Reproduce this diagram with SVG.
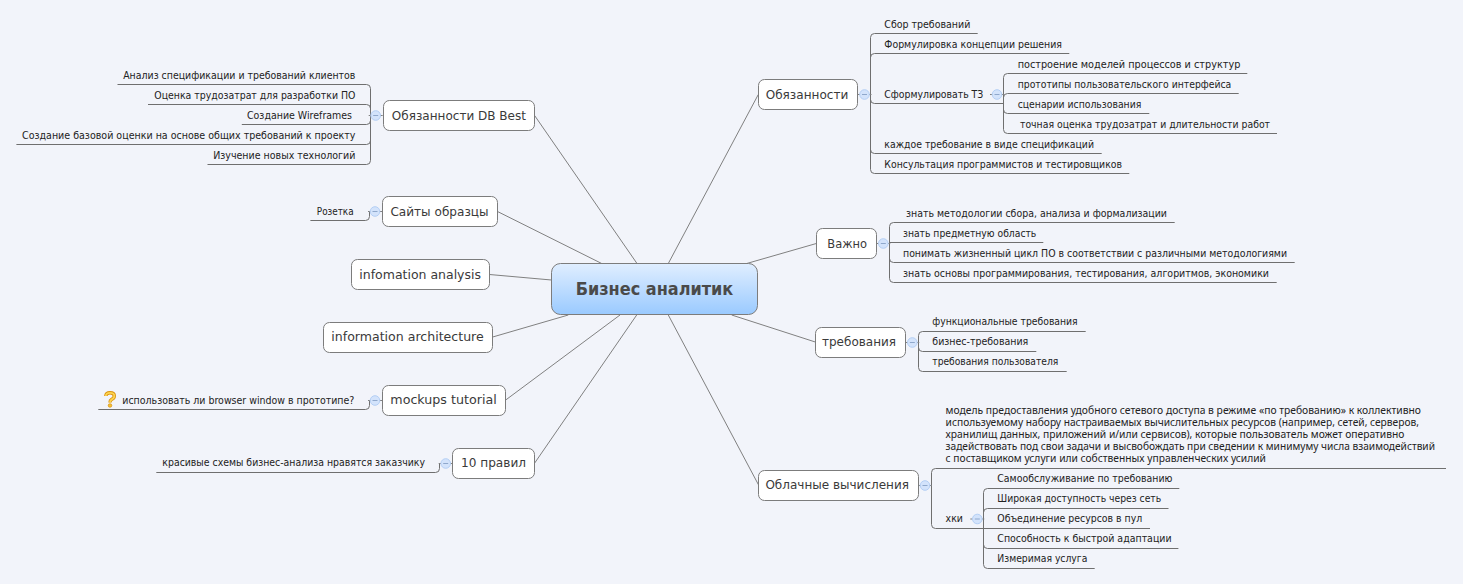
<svg xmlns="http://www.w3.org/2000/svg" width="1463" height="584" viewBox="0 0 1463 584">
<style>
text{font-family:"DejaVu Sans","Liberation Sans",sans-serif;}
.n{fill:#fff;stroke:#7c7c7c;stroke-width:1;}
.nt{font-size:13px;fill:#3a3a3a;}
.l{font-size:10.5px;fill:#222;}
text.p{font-family:"Noto Sans","Liberation Sans",sans-serif;}
.c{fill:none;stroke:#808080;stroke-width:1;}
.b{fill:none;stroke:#6f6f6f;stroke-width:1;}
.cc{fill:#d3e3fb;stroke:#b4cff5;stroke-width:1;}
.cd{stroke:#8fa8cc;stroke-width:1;fill:none;}
</style>
<defs>
<linearGradient id="g" x1="0" y1="0" x2="0" y2="1"><stop offset="0" stop-color="#e0eeff"/><stop offset="1" stop-color="#9acaff"/></linearGradient>
<g id="tog"><path class="c" d="M-7 0H7"/><circle class="cc" r="4.8"/><path class="cd" d="M-2.5 0H2.5"/></g>
</defs>
<rect width="1463" height="584" fill="#f2f4fa"/>
<g id="connectors">
<path class="c" d="M534.6 115.5L637 263.5"/>
<path class="c" d="M497.5 211.5L601.7 263.5"/>
<path class="c" d="M489.5 274.5L551.5 280"/>
<path class="c" d="M492.7 337L568.3 315"/>
<path class="c" d="M505.7 400L620 315"/>
<path class="c" d="M534.7 463L636.7 315"/>
<path class="c" d="M758.3 94.5L668.3 263.5"/>
<path class="c" d="M816.3 243.5L746.7 263.5"/>
<path class="c" d="M815.3 342L731.7 315"/>
<path class="c" d="M758.6 485L668.3 315"/>
<path class="b" d="M117.5 84.5H366.5Q370.5 84.5 370.5 88.5V160.5Q370.5 164.5 366.5 164.5H207.5"/>
<path class="b" d="M148 104.5H366.5Q370.5 104.5 370.5 108.5"/>
<path class="b" d="M241.8 124.5H366.5Q370.5 124.5 370.5 120.5"/>
<path class="b" d="M16.4 144.5H366.5Q370.5 144.5 370.5 140.5"/>
<path class="b" d="M310.4 220.5H365.5Q369.5 220.5 369.5 216.5V212"/>
<path class="b" d="M98.3 409.5H365.5Q369.5 409.5 369.5 405.5V401"/>
<path class="b" d="M156.3 472.5H435.5Q439.5 472.5 439.5 468.5V464"/>
<path class="b" d="M977.7 33.5H874.5Q870.5 33.5 870.5 37.5V169.5Q870.5 173.5 874.5 173.5H1129.3"/>
<path class="b" d="M1069.3 53.5H874.5Q870.5 53.5 870.5 57.5"/>
<path class="b" d="M1003.5 103.5H874.5Q870.5 103.5 870.5 99.5"/>
<path class="b" d="M1101.7 153.5H874.5Q870.5 153.5 870.5 149.5"/>
<path class="b" d="M1247.3 73.5H1007.5Q1003.5 73.5 1003.5 77.5V129.5Q1003.5 133.5 1007.5 133.5H1277"/>
<path class="b" d="M1238.7 93.5H1007.5Q1003.5 93.5 1003.5 97.5"/>
<path class="b" d="M1149.3 113.5H1007.5Q1003.5 113.5 1003.5 109.5"/>
<path class="b" d="M1174.7 222.5H893.5Q889.5 222.5 889.5 226.5V278.5Q889.5 282.5 893.5 282.5H1276.7"/>
<path class="b" d="M1043.3 242.5H889.5"/>
<path class="b" d="M1294.7 262.5H893.5Q889.5 262.5 889.5 258.5"/>
<path class="b" d="M1085.7 331.5H922.5Q918.5 331.5 918.5 335.5V367.5Q918.5 371.5 922.5 371.5H1066.7"/>
<path class="b" d="M1036.3 351.5H922.5Q918.5 351.5 918.5 347.5"/>
<path class="b" d="M1446 468.5H935.5Q931.5 468.5 931.5 472.5V524.5Q931.5 528.5 935.5 528.5H983.5"/>
<path class="b" d="M1179.3 488.5H987.5Q983.5 488.5 983.5 492.5V564.5Q983.5 568.5 987.5 568.5H1094.7"/>
<path class="b" d="M1168.5 508.5H987.5Q983.5 508.5 983.5 512.5"/>
<path class="b" d="M1150 528.5H983.5"/>
<path class="b" d="M1178.4 548.5H987.5Q983.5 548.5 983.5 544.5"/>
<use href="#tog" x="375.7" y="115.5"/>
<use href="#tog" x="375" y="211.5"/>
<use href="#tog" x="375" y="400.5"/>
<use href="#tog" x="445.7" y="463.5"/>
<use href="#tog" x="864.5" y="94.5"/>
<use href="#tog" x="997" y="94.5"/>
<use href="#tog" x="883.3" y="243.5"/>
<use href="#tog" x="912.3" y="342.5"/>
<use href="#tog" x="925" y="485.5"/>
<use href="#tog" x="977.3" y="519"/>
</g>
<g id="central"><rect x="551.5" y="263.5" width="206" height="51" rx="9" fill="url(#g)" stroke="#7c7c7c"/><text x="575.7" y="295" font-size="18" font-weight="700" fill="#4a4a4a" textLength="157.6" lengthAdjust="spacingAndGlyphs">Бизнес аналитик</text></g>
<g id="n-dbbest"><rect class="n" x="383.5" y="100.5" width="151" height="30" rx="6"/><text class="nt" x="391.8" y="120" textLength="134.2" lengthAdjust="spacingAndGlyphs">Обязанности DB Best</text>
<text class="l" x="123.2" y="78.5" textLength="232.2" lengthAdjust="spacingAndGlyphs">Анализ спецификации и требований клиентов</text>
<text class="l" x="154.3" y="98.5" textLength="201.1" lengthAdjust="spacingAndGlyphs">Оценка трудозатрат для разработки ПО</text>
<text class="l" x="247" y="118.5" textLength="105" lengthAdjust="spacingAndGlyphs">Создание Wireframes</text>
<text class="l" x="22" y="138.5" textLength="333.4" lengthAdjust="spacingAndGlyphs">Создание базовой оценки на основе общих требований к проекту</text>
<text class="l" x="213.2" y="158.5" textLength="142.2" lengthAdjust="spacingAndGlyphs">Изучение новых технологий</text></g>
<g id="n-sites"><rect class="n" x="382.5" y="196.5" width="115" height="30" rx="6"/><text class="nt" x="390.4" y="216" textLength="98.2" lengthAdjust="spacingAndGlyphs">Сайты образцы</text>
<text class="l" x="316.8" y="214.5" textLength="36.8" lengthAdjust="spacingAndGlyphs">Розетка</text></g>
<g id="n-analysis"><rect class="n" x="351.5" y="259.5" width="138" height="30" rx="6"/><text class="nt" x="359.3" y="279" textLength="121.7" lengthAdjust="spacingAndGlyphs">infomation analysis</text></g>
<g id="n-arch"><rect class="n" x="323.5" y="322.5" width="169" height="30" rx="6"/><text class="nt" x="331.3" y="341" textLength="152.4" lengthAdjust="spacingAndGlyphs">information architecture</text></g>
<g id="n-mockups"><rect class="n" x="382.5" y="385.5" width="123" height="30" rx="6"/><text class="nt" x="390.3" y="404" textLength="106.4" lengthAdjust="spacingAndGlyphs">mockups tutorial</text>
<path d="M105.8 396Q106 392.8 110 392.8Q114.3 392.8 114.3 396Q114.3 398.2 111.5 399.6Q110 400.4 110 402.4" fill="none" stroke="#d9920f" stroke-width="3.4"/>
<path d="M105.8 396Q106 392.8 110 392.8Q114.3 392.8 114.3 396Q114.3 398.2 111.5 399.6Q110 400.4 110 402.4" fill="none" stroke="#fdd34f" stroke-width="1.8"/>
<circle cx="110" cy="405.5" r="1.8" fill="#f5bf33" stroke="#d9920f" stroke-width=".7"/>
<text class="l" x="122.3" y="403.5" textLength="232" lengthAdjust="spacingAndGlyphs">использовать ли browser window в прототипе?</text></g>
<g id="n-rules"><rect class="n" x="452.5" y="448.5" width="82" height="30" rx="6"/><text class="nt" x="461" y="467" textLength="65" lengthAdjust="spacingAndGlyphs">10 правил</text>
<text class="l" x="162.3" y="466" textLength="262.7" lengthAdjust="spacingAndGlyphs">красивые схемы бизнес-анализа нравятся заказчику</text></g>
<g id="n-duties"><rect class="n" x="758.5" y="79.5" width="99" height="30" rx="6"/><text class="nt" x="765.7" y="99" textLength="82.6" lengthAdjust="spacingAndGlyphs">Обязанности</text>
<text class="l" x="884.3" y="27.5" textLength="86" lengthAdjust="spacingAndGlyphs">Сбор требований</text>
<text class="l" x="884.3" y="47.5" textLength="177.7" lengthAdjust="spacingAndGlyphs">Формулировка концепции решения</text>
<text class="l" x="884.3" y="98" textLength="99" lengthAdjust="spacingAndGlyphs">Сформулировать ТЗ</text>
<text class="l" x="884.3" y="147.5" textLength="209.7" lengthAdjust="spacingAndGlyphs">каждое требование в виде спецификаций</text>
<text class="l" x="884.3" y="167.5" textLength="237.7" lengthAdjust="spacingAndGlyphs">Консультация программистов и тестировщиков</text>
<text class="l" x="1017.7" y="67.5" textLength="222.6" lengthAdjust="spacingAndGlyphs">построение моделей процессов и структур</text>
<text class="l" x="1017.7" y="87.5" textLength="213.6" lengthAdjust="spacingAndGlyphs">прототипы пользовательского интерфейса</text>
<text class="l" x="1017.7" y="107.5" textLength="123.6" lengthAdjust="spacingAndGlyphs">сценарии использования</text>
<text class="l" x="1020" y="127.5" textLength="250" lengthAdjust="spacingAndGlyphs">точная оценка трудозатрат и длительности работ</text></g>
<g id="n-important"><rect class="n" x="816.5" y="228.5" width="60" height="30" rx="6"/><text class="nt" x="827.3" y="248" textLength="39.7" lengthAdjust="spacingAndGlyphs">Важно</text>
<text class="l" x="906" y="216.5" textLength="261" lengthAdjust="spacingAndGlyphs">знать методологии сбора, анализа и формализации</text>
<text class="l" x="903" y="236.5" textLength="133.3" lengthAdjust="spacingAndGlyphs">знать предметную область</text>
<text class="l" x="903" y="256.5" textLength="384" lengthAdjust="spacingAndGlyphs">понимать жизненный цикл ПО в соответствии с различными методологиями</text>
<text class="l" x="903" y="276.5" textLength="366" lengthAdjust="spacingAndGlyphs">знать основы программирования, тестирования, алгоритмов, экономики</text></g>
<g id="n-reqs"><rect class="n" x="815.5" y="327.5" width="90" height="30" rx="6"/><text class="nt" x="822" y="346" textLength="74" lengthAdjust="spacingAndGlyphs">требования</text>
<text class="l" x="932.3" y="325" textLength="145.4" lengthAdjust="spacingAndGlyphs">функциональные требования</text>
<text class="l" x="932.3" y="345" textLength="96" lengthAdjust="spacingAndGlyphs">бизнес-требования</text>
<text class="l" x="932.3" y="365" textLength="126" lengthAdjust="spacingAndGlyphs">требования пользователя</text></g>
<g id="n-cloud"><rect class="n" x="758.5" y="470.5" width="160" height="30" rx="6"/><text class="nt" x="765.4" y="489" textLength="143.6" lengthAdjust="spacingAndGlyphs">Облачные вычисления</text>
<text class="l p" x="945.6" y="413.5" textLength="475.4" lengthAdjust="spacingAndGlyphs">модель предоставления удобного сетевого доступа в режиме «по требованию» к коллективно</text>
<text class="l p" x="945.6" y="425.5" textLength="473.4" lengthAdjust="spacingAndGlyphs">используемому набору настраиваемых вычислительных ресурсов (например, сетей, серверов,</text>
<text class="l p" x="945.6" y="437.5" textLength="458.9" lengthAdjust="spacingAndGlyphs">хранилищ данных, приложений и/или сервисов), которые пользователь может оперативно</text>
<text class="l p" x="945.6" y="449.5" textLength="489.4" lengthAdjust="spacingAndGlyphs">задействовать под свои задачи и высвобождать при сведении к минимуму числа взаимодействий</text>
<text class="l p" x="945.6" y="461.5" textLength="320.4" lengthAdjust="spacingAndGlyphs">с поставщиком услуги или собственных управленческих усилий</text>
<text class="l" x="945.6" y="521.5" textLength="17.3" lengthAdjust="spacingAndGlyphs">хки</text>
<text class="l" x="997.3" y="482" textLength="175.2" lengthAdjust="spacingAndGlyphs">Самообслуживание по требованию</text>
<text class="l" x="997.3" y="502" textLength="163.9" lengthAdjust="spacingAndGlyphs">Широкая доступность через сеть</text>
<text class="l" x="997.3" y="522" textLength="144.9" lengthAdjust="spacingAndGlyphs">Объединение ресурсов в пул</text>
<text class="l" x="997.3" y="542" textLength="174.3" lengthAdjust="spacingAndGlyphs">Способность к быстрой адаптации</text>
<text class="l" x="997.3" y="562" textLength="90.1" lengthAdjust="spacingAndGlyphs">Измеримая услуга</text></g>
</svg>
